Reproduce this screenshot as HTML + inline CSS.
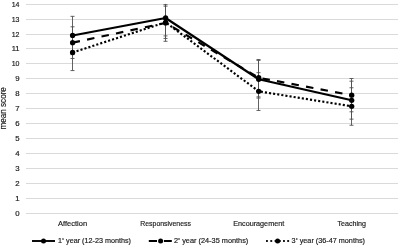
<!DOCTYPE html><html><head><meta charset="utf-8"><title>chart</title><style>html,body{margin:0;padding:0;background:#fff}text{stroke:#1a1a1a;stroke-width:0.18px}</style></head><body><svg width="400" height="246" viewBox="0 0 400 246" style="display:block" font-family="'Liberation Sans', sans-serif">
<rect width="400" height="246" fill="#fff"/>
<line x1="26" x2="398" y1="213.5" y2="213.5" stroke="#dadada" stroke-width="1"/>
<text x="19.5" y="215.80" font-size="7.8" text-anchor="end" fill="#1a1a1a">0</text>
<line x1="26" x2="398" y1="198.5" y2="198.5" stroke="#dadada" stroke-width="1"/>
<text x="19.5" y="200.86" font-size="7.8" text-anchor="end" fill="#1a1a1a">1</text>
<line x1="26" x2="398" y1="183.5" y2="183.5" stroke="#dadada" stroke-width="1"/>
<text x="19.5" y="185.92" font-size="7.8" text-anchor="end" fill="#1a1a1a">2</text>
<line x1="26" x2="398" y1="168.5" y2="168.5" stroke="#dadada" stroke-width="1"/>
<text x="19.5" y="170.98" font-size="7.8" text-anchor="end" fill="#1a1a1a">3</text>
<line x1="26" x2="398" y1="153.5" y2="153.5" stroke="#dadada" stroke-width="1"/>
<text x="19.5" y="156.04" font-size="7.8" text-anchor="end" fill="#1a1a1a">4</text>
<line x1="26" x2="398" y1="138.5" y2="138.5" stroke="#dadada" stroke-width="1"/>
<text x="19.5" y="141.10" font-size="7.8" text-anchor="end" fill="#1a1a1a">5</text>
<line x1="26" x2="398" y1="123.5" y2="123.5" stroke="#dadada" stroke-width="1"/>
<text x="19.5" y="126.16" font-size="7.8" text-anchor="end" fill="#1a1a1a">6</text>
<line x1="26" x2="398" y1="108.5" y2="108.5" stroke="#dadada" stroke-width="1"/>
<text x="19.5" y="111.22" font-size="7.8" text-anchor="end" fill="#1a1a1a">7</text>
<line x1="26" x2="398" y1="93.5" y2="93.5" stroke="#dadada" stroke-width="1"/>
<text x="19.5" y="96.28" font-size="7.8" text-anchor="end" fill="#1a1a1a">8</text>
<line x1="26" x2="398" y1="78.5" y2="78.5" stroke="#dadada" stroke-width="1"/>
<text x="19.5" y="81.34" font-size="7.8" text-anchor="end" fill="#1a1a1a">9</text>
<line x1="26" x2="398" y1="63.5" y2="63.5" stroke="#dadada" stroke-width="1"/>
<text x="19.5" y="66.40" font-size="7.8" text-anchor="end" textLength="7.8" lengthAdjust="spacingAndGlyphs" fill="#1a1a1a">10</text>
<line x1="26" x2="398" y1="48.5" y2="48.5" stroke="#dadada" stroke-width="1"/>
<text x="19.5" y="51.46" font-size="7.8" text-anchor="end" textLength="7.8" lengthAdjust="spacingAndGlyphs" fill="#1a1a1a">11</text>
<line x1="26" x2="398" y1="34.5" y2="34.5" stroke="#dadada" stroke-width="1"/>
<text x="19.5" y="36.52" font-size="7.8" text-anchor="end" textLength="7.8" lengthAdjust="spacingAndGlyphs" fill="#1a1a1a">12</text>
<line x1="26" x2="398" y1="19.5" y2="19.5" stroke="#dadada" stroke-width="1"/>
<text x="19.5" y="21.58" font-size="7.8" text-anchor="end" textLength="7.8" lengthAdjust="spacingAndGlyphs" fill="#1a1a1a">13</text>
<line x1="26" x2="398" y1="4.5" y2="4.5" stroke="#dadada" stroke-width="1"/>
<text x="19.5" y="6.64" font-size="7.8" text-anchor="end" textLength="7.8" lengthAdjust="spacingAndGlyphs" fill="#1a1a1a">14</text>
<text transform="translate(6.4,108.3) rotate(-90)" font-size="8.6" text-anchor="middle" textLength="42.3" lengthAdjust="spacingAndGlyphs" fill="#1a1a1a">mean score</text>
<text x="72.60" y="226.2" font-size="7.8" text-anchor="middle" textLength="29" lengthAdjust="spacingAndGlyphs" fill="#1a1a1a">Affection</text>
<text x="165.60" y="226.2" font-size="7.8" text-anchor="middle" textLength="50.6" lengthAdjust="spacingAndGlyphs" fill="#1a1a1a">Responsiveness</text>
<text x="258.70" y="226.2" font-size="7.8" text-anchor="middle" textLength="51" lengthAdjust="spacingAndGlyphs" fill="#1a1a1a">Encouragement</text>
<text x="351.70" y="226.2" font-size="7.8" text-anchor="middle" textLength="28.5" lengthAdjust="spacingAndGlyphs" fill="#1a1a1a">Teaching</text>
<path d="M72.50 16.34V54.59M70.50 16.34H74.50M70.50 54.59H74.50" stroke="#505050" stroke-width="0.9" fill="none"/>
<path d="M165.50 3.94V35.91M163.50 35.91H167.50" stroke="#505050" stroke-width="0.9" fill="none"/>
<path d="M258.50 60.41V98.06M256.50 60.41H260.50M256.50 98.06H260.50" stroke="#505050" stroke-width="0.9" fill="none"/>
<path d="M351.50 81.18V119.13M349.50 81.18H353.50M349.50 119.13H353.50" stroke="#505050" stroke-width="0.9" fill="none"/>
<path d="M72.50 26.80V58.47M70.50 26.80H74.50M70.50 58.47H74.50" stroke="#505050" stroke-width="0.9" fill="none"/>
<path d="M165.50 4.69V41.29M163.50 4.69H167.50M163.50 41.29H167.50" stroke="#505050" stroke-width="0.9" fill="none"/>
<path d="M258.50 59.52V96.87M256.50 59.52H260.50M256.50 96.87H260.50" stroke="#505050" stroke-width="0.9" fill="none"/>
<path d="M351.50 78.49V111.81M349.50 78.49H353.50M349.50 111.81H353.50" stroke="#505050" stroke-width="0.9" fill="none"/>
<path d="M72.50 34.42V70.57M70.50 34.42H74.50M70.50 70.57H74.50" stroke="#505050" stroke-width="0.9" fill="none"/>
<path d="M165.50 6.18V38.45M163.50 6.18H167.50M163.50 38.45H167.50" stroke="#505050" stroke-width="0.9" fill="none"/>
<path d="M258.50 72.67V110.46M256.50 72.67H260.50M256.50 110.46H260.50" stroke="#505050" stroke-width="0.9" fill="none"/>
<path d="M351.50 87.75V125.25M349.50 87.75H353.50M349.50 125.25H353.50" stroke="#505050" stroke-width="0.9" fill="none"/>
<polyline points="72.60,52.50 165.60,22.32 258.70,91.34 351.70,106.28" fill="none" stroke="#000" stroke-width="2.15" stroke-dasharray="2.1 2.05"/>
<polyline points="72.60,42.64 165.60,22.92 258.70,77.74 351.70,95.22" fill="none" stroke="#000" stroke-width="2.15" stroke-dasharray="7.5 7.28"/>
<polyline points="72.60,35.46 165.60,17.98 258.70,79.24 351.70,100.30" fill="none" stroke="#000" stroke-width="2.15" stroke-linejoin="round"/>
<circle cx="72.60" cy="35.46" r="2.65" fill="#000"/>
<circle cx="165.60" cy="17.98" r="2.65" fill="#000"/>
<circle cx="258.70" cy="79.24" r="2.65" fill="#000"/>
<circle cx="351.70" cy="100.30" r="2.65" fill="#000"/>
<circle cx="72.60" cy="42.64" r="2.65" fill="#000"/>
<circle cx="165.60" cy="22.92" r="2.65" fill="#000"/>
<circle cx="258.70" cy="77.74" r="2.65" fill="#000"/>
<circle cx="351.70" cy="95.22" r="2.65" fill="#000"/>
<circle cx="72.60" cy="52.50" r="2.65" fill="#000"/>
<circle cx="165.60" cy="22.32" r="2.65" fill="#000"/>
<circle cx="258.70" cy="91.34" r="2.65" fill="#000"/>
<circle cx="351.70" cy="106.28" r="2.65" fill="#000"/>
<line x1="32" x2="55" y1="241.0" y2="241.0" stroke="#000" stroke-width="1.9"/>
<circle cx="43.5" cy="241.0" r="2.5" fill="#000"/>
<text x="58" y="243.3" font-size="7.8" textLength="73" lengthAdjust="spacingAndGlyphs" fill="#1a1a1a">1<tspan font-size="5.5" dy="-1.6">°</tspan><tspan dy="1.6"> year (12-23 months)</tspan></text>
<line x1="148.8" x2="171.8" y1="241.0" y2="241.0" stroke="#000" stroke-width="1.9" stroke-dasharray="8.2 6.9 8"/>
<circle cx="160.6" cy="241.0" r="2.5" fill="#000"/>
<text x="174.0" y="243.3" font-size="7.8" textLength="74.3" lengthAdjust="spacingAndGlyphs" fill="#1a1a1a">2<tspan font-size="5.5" dy="-1.6">°</tspan><tspan dy="1.6"> year (24-35 months)</tspan></text>
<rect x="266" y="240.1" width="1.9" height="1.8" fill="#000"/>
<rect x="270.3" y="240.1" width="1.9" height="1.8" fill="#000"/>
<rect x="274.6" y="240.1" width="1.9" height="1.8" fill="#000"/>
<rect x="278.9" y="240.1" width="1.9" height="1.8" fill="#000"/>
<rect x="283.0" y="240.1" width="1.9" height="1.8" fill="#000"/>
<rect x="287.2" y="240.1" width="1.9" height="1.8" fill="#000"/>
<line x1="277.6" x2="277.6" y1="241.0" y2="241.0" stroke="#000" stroke-width="1.9"/>
<circle cx="277.6" cy="241.0" r="2.5" fill="#000"/>
<text x="291.6" y="243.3" font-size="7.8" textLength="73.4" lengthAdjust="spacingAndGlyphs" fill="#1a1a1a">3<tspan font-size="5.5" dy="-1.6">°</tspan><tspan dy="1.6"> year (36-47 months)</tspan></text>
</svg></body></html>
